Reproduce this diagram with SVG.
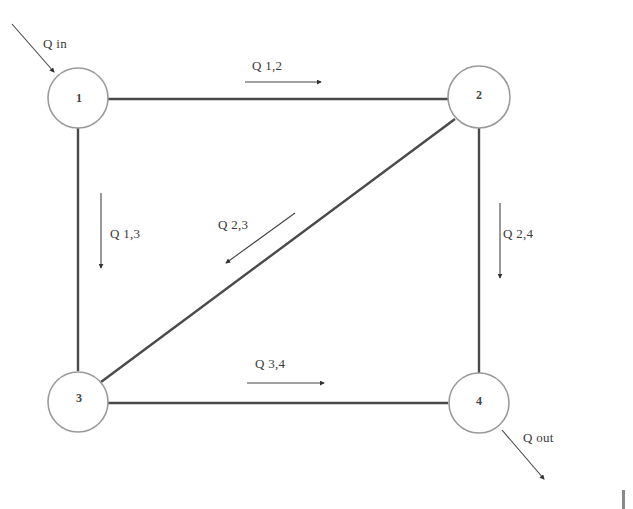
<svg xmlns="http://www.w3.org/2000/svg" width="633" height="509" viewBox="0 0 633 509">
<style>
.edge{stroke:#4a4a4a;stroke-width:2.4;fill:none}
.flow{stroke:#444;stroke-width:1.1;fill:none;marker-end:url(#ah)}
.node circle{fill:#fff;stroke:#9a9a9a;stroke-width:1.6}
text{font-family:"Liberation Serif","Times New Roman",serif;font-size:13px;fill:#3a3a3a;letter-spacing:0.3px}
.nl{font-size:12px;text-anchor:middle;font-weight:bold;fill:#444;letter-spacing:0}
</style>
<defs>
<marker id="ah" viewBox="0 0 6 6" refX="5" refY="3" markerWidth="5" markerHeight="5" orient="auto" markerUnits="userSpaceOnUse">
<path d="M0,0 L6,3 L0,6 z" fill="#333"/>
</marker>
</defs>
<rect width="633" height="509" fill="#fff"/>
<g id="connectors">
<line class="edge" x1="108" y1="99" x2="448" y2="99"/>
<line class="edge" x1="78" y1="128" x2="78" y2="371"/>
<line class="edge" x1="479" y1="128" x2="479" y2="373"/>
<line class="edge" x1="108" y1="403" x2="448" y2="403"/>
<line class="edge" x1="455" y1="119" x2="101" y2="382"/>
<line class="flow" x1="12" y1="24" x2="54" y2="72"/>
<line class="flow" x1="245" y1="82" x2="321" y2="82"/>
<line class="flow" x1="101" y1="193" x2="101" y2="268"/>
<line class="flow" x1="295" y1="213" x2="226" y2="263"/>
<line class="flow" x1="500" y1="203" x2="500" y2="278"/>
<line class="flow" x1="247" y1="383" x2="324" y2="383"/>
<line class="flow" x1="502" y1="430" x2="544" y2="479"/>
</g>
<g id="labels">
<text x="43" y="48">Q in</text>
<text x="252" y="70">Q 1,2</text>
<text x="110" y="238">Q 1,3</text>
<text x="218" y="229">Q 2,3</text>
<text x="503" y="238">Q 2,4</text>
<text x="255" y="368">Q 3,4</text>
<text x="523" y="442">Q out</text>
</g>
<g id="node1" class="node"><circle cx="78" cy="98" r="30"/><text class="nl" x="79" y="102">1</text></g>
<g id="node2" class="node"><circle cx="479" cy="97" r="31"/><text class="nl" x="479" y="99">2</text></g>
<g id="node3" class="node"><circle cx="78" cy="402" r="30"/><text class="nl" x="79" y="402">3</text></g>
<g id="node4" class="node"><circle cx="479" cy="403" r="30"/><text class="nl" x="479" y="405">4</text></g>
<rect x="622" y="490" width="3" height="19" fill="#888"/>
</svg>
